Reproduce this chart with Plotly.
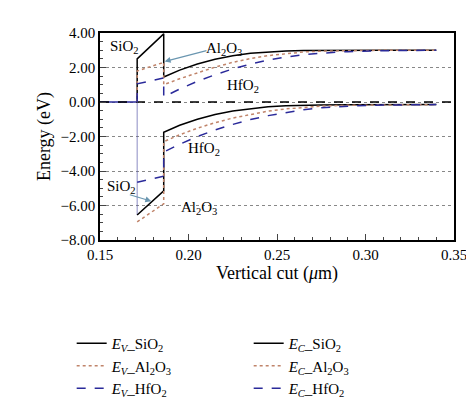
import plotly.graph_objects as go

# position along the vertical cut (um)
x_metal = [0.15, 0.171]
x_ox = [0.171, 0.186]
x_si = [0.186, 0.195, 0.205, 0.215, 0.225, 0.235, 0.245, 0.255, 0.265, 0.275, 0.29, 0.31, 0.34]

# conduction band (eV)
ec_sio2_ox = [2.5, 3.95]
ec_al2o3_ox = [1.8, 2.3]
ec_hfo2_ox = [1.05, 1.4]
ec_sio2_si = [1.45, 1.85, 2.2, 2.48, 2.68, 2.82, 2.91, 2.96, 2.99, 3.0, 3.0, 3.0, 3.0]
ec_al2o3_si = [1.0, 1.35, 1.7, 2.02, 2.3, 2.52, 2.69, 2.81, 2.9, 2.95, 2.98, 3.0, 3.0]
ec_hfo2_si = [0.3, 0.75, 1.2, 1.58, 1.92, 2.2, 2.43, 2.6, 2.74, 2.83, 2.92, 2.97, 3.0]

# valence band (eV)
ev_sio2_ox = [-6.55, -5.15]
ev_al2o3_ox = [-6.95, -5.9]
ev_hfo2_ox = [-4.65, -4.3]
ev_sio2_si = [-1.75, -1.35, -1.0, -0.72, -0.52, -0.38, -0.28, -0.22, -0.19, -0.17, -0.16, -0.15, -0.15]
ev_al2o3_si = [-2.3, -1.9, -1.52, -1.2, -0.93, -0.71, -0.53, -0.4, -0.3, -0.24, -0.19, -0.16, -0.15]
ev_hfo2_si = [-2.9, -2.45, -2.0, -1.62, -1.3, -1.02, -0.79, -0.6, -0.45, -0.34, -0.24, -0.18, -0.15]

styles = {
    "SiO<sub>2</sub>": dict(color="black", dash="solid"),
    "Al<sub>2</sub>O<sub>3</sub>": dict(color="#c0846a", dash="dot"),
    "HfO<sub>2</sub>": dict(color="#2a2a9a", dash="dash"),
}
ec = {"SiO<sub>2</sub>": (ec_sio2_ox, ec_sio2_si),
      "Al<sub>2</sub>O<sub>3</sub>": (ec_al2o3_ox, ec_al2o3_si),
      "HfO<sub>2</sub>": (ec_hfo2_ox, ec_hfo2_si)}
ev = {"SiO<sub>2</sub>": (ev_sio2_ox, ev_sio2_si),
      "Al<sub>2</sub>O<sub>3</sub>": (ev_al2o3_ox, ev_al2o3_si),
      "HfO<sub>2</sub>": (ev_hfo2_ox, ev_hfo2_si)}

fig = go.Figure()
# metal side and fermi level
fig.add_trace(go.Scatter(x=x_metal, y=[0, 0], mode="lines", line=dict(color="#2a2a9a", width=1.5), showlegend=False))
fig.add_trace(go.Scatter(x=[0.15, 0.35], y=[0, 0], mode="lines", line=dict(color="black", width=1.3, dash="dash"), showlegend=False))
fig.add_trace(go.Scatter(x=[0.171, 0.171], y=[0, -6.55], mode="lines", line=dict(color="#5a5aaa", width=0.7), showlegend=False))

for band, lab, lg in ((ev, "V", "legend"), (ec, "C", "legend2")):
    for m, st in styles.items():
        ox, si = band[m]
        xs = x_ox + x_si
        ys = ox + si
        if lab == "C":
            xs = [0.171] + xs
            ys = [0] + ys
        fig.add_trace(go.Scatter(
            x=xs, y=ys, mode="lines", legend=lg,
            line=dict(color=st["color"], dash=st["dash"], width=1.5),
            name="<i>E<sub>%s</sub></i>_%s" % (lab, m)))

ann = [
    (0.164, 3.2, "SiO<sub>2</sub>"),
    (0.22, 3.1, "Al<sub>2</sub>O<sub>3</sub>"),
    (0.231, 0.95, "HfO<sub>2</sub>"),
    (0.209, -2.75, "HfO<sub>2</sub>"),
    (0.162, -4.95, "SiO<sub>2</sub>"),
    (0.206, -6.15, "Al<sub>2</sub>O<sub>3</sub>"),
    (0.356, 1.45, "<i>E<sub>C</sub></i>"),
    (0.356, -0.45, "<i>E<sub>V</sub></i>"),
]
for x, y, t in ann:
    fig.add_annotation(x=x, y=y, text=t, showarrow=False, font=dict(size=15))
fig.add_annotation(x=0.1865, y=2.35, ax=0.211, ay=3.0, axref="x", ayref="y", text="",
                   showarrow=True, arrowhead=2, arrowsize=1, arrowwidth=1.2, arrowcolor="#6a96b0")
fig.add_annotation(x=0.179, y=-5.75, ax=0.166, ay=-5.35, axref="x", ayref="y", text="",
                   showarrow=True, arrowhead=2, arrowsize=1, arrowwidth=1.2, arrowcolor="#6a96b0")

leg = dict(orientation="v", y=-0.42, yanchor="top", xanchor="left", tracegroupgap=0,
           font=dict(size=15), bgcolor="rgba(0,0,0,0)")
fig.update_layout(
    width=474, height=409, margin=dict(l=92, r=28, t=25, b=152),
    plot_bgcolor="white", paper_bgcolor="white",
    font=dict(family="Liberation Serif", size=15, color="black"),
    legend=dict(leg, x=-0.08),
    legend2=dict(leg, x=0.42),
)
fig.update_xaxes(range=[0.15, 0.35], dtick=0.05, tickformat=".2f", ticks="inside", ticklen=6,
                 minor=dict(dtick=0.01, ticks="inside", ticklen=3), showline=True, linecolor="black",
                 linewidth=1.5, mirror=True, showgrid=False, zeroline=False,
                 title=dict(text="Vertical cut (<i>μ</i>m)", standoff=5))
fig.update_yaxes(range=[-8, 4], dtick=2, tickformat=".2f", ticks="inside", ticklen=6,
                 minor=dict(dtick=0.5, ticks="inside", ticklen=3), showline=True, linecolor="black",
                 linewidth=1.5, mirror=True, showgrid=True, gridcolor="#888", griddash="dot",
                 zeroline=False, title=dict(text="Energy (eV)", standoff=5))
fig.write_html("out.html")
